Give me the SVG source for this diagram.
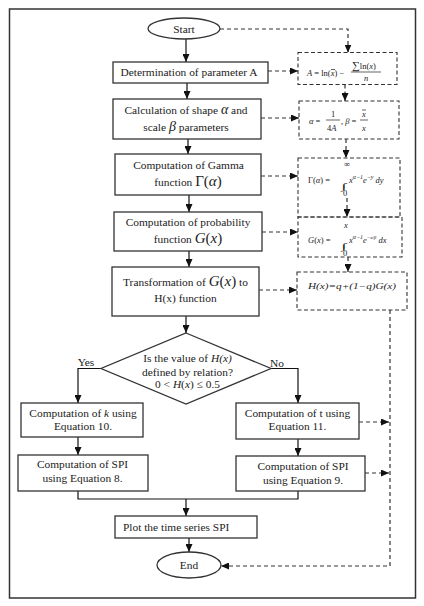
<svg xmlns="http://www.w3.org/2000/svg" width="424" height="606" viewBox="0 0 424 606">
<defs>
<marker id="ah" markerUnits="userSpaceOnUse" markerWidth="8" markerHeight="7" refX="8" refY="3.5" orient="auto">
<path d="M0,0 L8,3.5 L0,7 z" fill="#111"/>
</marker>
<style>
text{font-family:"Liberation Serif","Times New Roman",serif}
.box{fill:#fff;stroke:#333;stroke-width:1.3}
.fbox{fill:none;stroke:#333;stroke-width:1.1;stroke-dasharray:4 2.5}
.ln{fill:none;stroke:#111;stroke-width:1.2}
.dl{fill:none;stroke:#333;stroke-width:1.2;stroke-dasharray:4 3}
.t{font-size:11.4px;fill:#222;text-anchor:middle}
.f{font-size:8.5px;fill:#222}
.i{font-style:italic}
.bar{stroke:#222;stroke-width:0.7}
</style>
</defs>
<rect x="9.5" y="9" width="406" height="589" fill="#fff" stroke="#333" stroke-width="1.5"/>

<g id="connectors">
<path class="ln" d="M186,39 V62" marker-end="url(#ah)"/>
<path class="ln" d="M187,83 V99" marker-end="url(#ah)"/>
<path class="ln" d="M188,139 V154" marker-end="url(#ah)"/>
<path class="ln" d="M189,195 V212" marker-end="url(#ah)"/>
<path class="ln" d="M189,251 V267" marker-end="url(#ah)"/>
<path class="ln" d="M186,316 V333" marker-end="url(#ah)"/>
<path class="ln" d="M101,368.5 H78 V403" marker-end="url(#ah)"/>
<path class="ln" d="M271,368.5 H298 V403" marker-end="url(#ah)"/>
<path class="ln" d="M78,437 V455" marker-end="url(#ah)"/>
<path class="ln" d="M298,439 V456" marker-end="url(#ah)"/>
<path class="ln" d="M78,491 V499 H298 V491"/>
<path class="ln" d="M186,499 V516" marker-end="url(#ah)"/>
<path class="ln" d="M189,538 V552" marker-end="url(#ah)"/>
<path class="dl" d="M220,29 H348 V52.5" marker-end="url(#ah)"/>
<path class="dl" d="M268,71 H298" marker-end="url(#ah)"/>
<path class="dl" d="M261,118 H299" marker-end="url(#ah)"/>
<path class="dl" d="M261,176 H298" marker-end="url(#ah)"/>
<path class="dl" d="M262,232 H298" marker-end="url(#ah)"/>
<path class="dl" d="M259,290 H297" marker-end="url(#ah)"/>
<path class="dl" d="M345,84.5 V101" marker-end="url(#ah)"/>
<path class="dl" d="M346,139 V158" marker-end="url(#ah)"/>
<path class="dl" d="M347,198 V217" marker-end="url(#ah)"/>
<path class="dl" d="M348,257 V272" marker-end="url(#ah)"/>
<path class="dl" d="M390,310 V566 H221" marker-end="url(#ah)"/>
<path class="dl" d="M359,422 H389" marker-end="url(#ah)"/>
<path class="dl" d="M365,473 H389" marker-end="url(#ah)"/>
</g>

<g id="start">
<ellipse class="box" cx="184" cy="28.5" rx="36" ry="10.5"/>
<text class="t" x="184" y="32.5">Start</text>
</g>
<g id="paramA">
<rect class="box" x="113" y="62" width="155" height="21"/>
<text class="t" x="189" y="76">Determination of parameter A</text>
</g>
<g id="shapeScale">
<rect class="box" x="113" y="99" width="148" height="40"/>
<text class="t" x="186" y="114">Calculation of shape <tspan class="i" font-size="14">α</tspan> and</text>
<text class="t" x="186" y="131">scale <tspan class="i" font-size="14">β</tspan> parameters</text>
</g>
<g id="gamma">
<rect class="box" x="115" y="154" width="146" height="41"/>
<text class="t" x="188.5" y="168.5">Computation of Gamma</text>
<text class="t" x="188" y="186">function <tspan font-size="15">Γ(<tspan class="i">α</tspan>)</tspan></text>
</g>
<g id="prob">
<rect class="box" x="114" y="212" width="148" height="39"/>
<text class="t" x="188" y="226">Computation of probability</text>
<text class="t" x="188" y="243">function <tspan font-size="15"><tspan class="i">G</tspan>(<tspan class="i">x</tspan>)</tspan></text>
</g>
<g id="transform">
<rect class="box" x="112" y="267" width="147" height="49"/>
<text class="t" x="185.5" y="286">Transformation of <tspan font-size="15"><tspan class="i">G</tspan>(<tspan class="i">x</tspan>)</tspan> to</text>
<text class="t" x="185.5" y="302">H(x) function</text>
</g>
<g id="decision">
<polygon class="box" points="186,333 271,368.5 186,404 101,368.5"/>
<text class="t" x="187.5" y="362">Is the value of <tspan class="i">H(x)</tspan></text>
<text class="t" x="187.5" y="376">defined by relation?</text>
<text class="t" x="187.5" y="388">0 &lt; <tspan class="i">H</tspan>(<tspan class="i">x</tspan>) ≤ 0.5</text>
<text class="t" x="86" y="366">Yes</text>
<text class="t" x="277" y="367">No</text>
</g>
<g id="computeK">
<rect class="box" x="21" y="403" width="122" height="34"/>
<text class="t" x="83" y="417">Computation of <tspan class="i">k</tspan> using</text>
<text class="t" x="83" y="429.5">Equation 10.</text>
</g>
<g id="computeT">
<rect class="box" x="236" y="403" width="123" height="36"/>
<text class="t" x="297.5" y="417">Computation of t using</text>
<text class="t" x="297.5" y="430">Equation 11.</text>
</g>
<g id="spi8">
<rect class="box" x="18" y="455" width="130" height="36"/>
<text class="t" x="82.5" y="468">Computation of SPI</text>
<text class="t" x="82.5" y="482">using Equation 8.</text>
</g>
<g id="spi9">
<rect class="box" x="236" y="456" width="129" height="35"/>
<text class="t" x="303" y="470">Computation of SPI</text>
<text class="t" x="303" y="484">using Equation 9.</text>
</g>
<g id="plot">
<rect class="box" x="115" y="516" width="142" height="22"/>
<text class="t" x="123" y="530.5" style="text-anchor:start">Plot the time series SPI</text>
</g>
<g id="end">
<ellipse class="box" cx="189" cy="565" rx="32" ry="13"/>
<text class="t" x="189" y="569">End</text>
</g>

<g id="formulaA">
<rect class="fbox" x="298" y="52.5" width="99" height="32"/>
<text class="f" x="307" y="76"><tspan class="i">A</tspan> = ln(<tspan class="i">x</tspan>) −</text>
<line class="bar" x1="331" y1="69.5" x2="335" y2="69.5"/>
<text class="f" x="352" y="69"><tspan font-size="11">∑</tspan>ln(<tspan class="i">x</tspan>)</text>
<line class="bar" x1="351" y1="72" x2="381" y2="72"/>
<text class="f i" x="364" y="81">n</text>
</g>
<g id="formulaAB">
<rect class="fbox" x="299" y="101" width="100" height="38"/>
<text class="f" x="309" y="124"><tspan class="i">α</tspan> =</text>
<text class="f" x="331" y="117">1</text>
<line class="bar" x1="326" y1="120" x2="340" y2="120"/>
<text class="f" x="327" y="131">4<tspan class="i">A</tspan></text>
<text class="f" x="341" y="124">, <tspan class="i">β</tspan> =</text>
<text class="f i" x="362" y="117">x</text>
<line class="bar" x1="362" y1="110" x2="366" y2="110"/>
<line class="bar" x1="360" y1="120" x2="368" y2="120"/>
<text class="f i" x="362" y="131">x</text>
</g>
<g id="formulaGamma">
<rect class="fbox" x="298" y="158" width="102" height="59"/>
<text class="f" x="308" y="183">Γ(<tspan class="i">α</tspan>) =</text>
<text class="f" x="341" y="189" font-size="20" textLength="5" lengthAdjust="spacingAndGlyphs">∫</text>
<text class="f" x="344" y="167" font-size="5.5">∞</text>
<text class="f" x="343" y="196" font-size="5.5">0</text>
<text class="f i" x="349" y="183">x<tspan font-size="6" dy="-4">α−1</tspan><tspan dy="4">e</tspan><tspan font-size="6" dy="-4">−y</tspan><tspan dy="4"> dy</tspan></text>
</g>
<g id="formulaG">
<rect class="fbox" x="298" y="217" width="104" height="40"/>
<text class="f" x="308" y="243"><tspan class="i">G</tspan>(<tspan class="i">x</tspan>) =</text>
<text class="f" x="341" y="249" font-size="20" textLength="5" lengthAdjust="spacingAndGlyphs">∫</text>
<text class="f i" x="344" y="228" font-size="5.5">x</text>
<text class="f" x="343" y="256" font-size="5.5">0</text>
<text class="f i" x="349" y="243">x<tspan font-size="6" dy="-4">α−1</tspan><tspan dy="4">e</tspan><tspan font-size="5" dy="-4">−x/β</tspan><tspan dy="4"> dx</tspan></text>
</g>
<g id="formulaH">
<rect class="fbox" x="297" y="272" width="110" height="38"/>
<text class="f i" x="308" y="289" font-size="13" textLength="88" lengthAdjust="spacingAndGlyphs">H(x)=q+(1−q)G(x)</text>
</g>
</svg>
